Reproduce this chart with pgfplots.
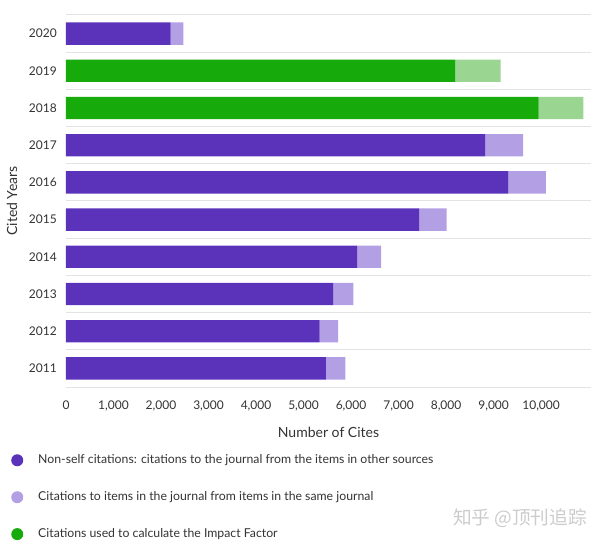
\documentclass[border=0pt]{standalone}
\usepackage{pgfplots}
\pgfplotsset{compat=1.18}
\usepackage{fontspec}
\setmainfont{Lato}
\newfontfamily\cjk{Noto Sans CJK SC}
\definecolor{dpurple}{HTML}{5B32BA}
\definecolor{lpurple}{HTML}{B39FE3}
\definecolor{dgreen}{HTML}{16AA0A}
\definecolor{lgreen}{HTML}{9AD691}
\definecolor{txt}{HTML}{333333}
\definecolor{gridc}{HTML}{E3E3E3}
\begin{document}
\begin{tikzpicture}
\useasboundingbox (-49.5pt,-117pt) rectangle (400.5pt,290.25pt);
\begin{axis}[
  at={(0,0)}, anchor=south west,
  scale only axis, width=393.75pt, height=279pt,
  xbar stacked, bar width=0.6,
  xmin=0, xmax=11050, ymin=-0.5, ymax=9.5,
  axis line style={draw=none},
  ytick={0,1,2,3,4,5,6,7,8,9},
  yticklabels={2011,2012,2013,2014,2015,2016,2017,2018,2019,2020},
  minor ytick={-0.5,0.5,1.5,2.5,3.5,4.5,5.5,6.5,7.5,8.5,9.5},
  yminorgrids, minor grid style={gridc, line width=0.75pt},
  major tick length=0pt, minor tick length=0pt,
  xtick={0,1000,2000,3000,4000,5000,6000,7000,8000,9000,10000},
  scaled x ticks=false,
  /pgf/number format/1000 sep={,},
  /pgf/number format/assume math mode=true,
  tick label style={font=\fontsize{9}{11}\selectfont, text=txt},
  yticklabel style={anchor=east, inner sep=0pt, xshift=-6.75pt},
  xticklabel style={anchor=north, inner sep=0pt, yshift=-10pt},
  xlabel={Number of Cites}, ylabel={Cited Years},
  label style={font=\fontsize{10.5}{12}\selectfont, text=txt},
  xlabel style={at={(axis description cs:0.5,-0.121)}, anchor=center},
  ylabel style={at={(axis description cs:-0.1029,0.5)}, anchor=center},
  lg/.style={legend image code/.code={\fill (0pt,0pt) circle (4.5pt); \path[draw=none,fill=none] (4.5pt,0pt) -- (15.75pt,0pt);}},
  legend cell align=left,
  legend style={at={(axis description cs:-0.1048,-0.1801)}, anchor=north west,
    draw=none, fill=none, inner sep=0pt, row sep=18.7pt,
    font=\fontsize{9.2}{11}\selectfont, text=txt, nodes={inner sep=0pt}},
]
% non-self citations (purple years)
\addplot[fill=dpurple, draw=none, lg] coordinates {
 (5470,0) (5340,1) (5630,2) (6130,3) (7430,4) (9310,5) (8820,6) (0,7) (0,8) (2200,9)};
\addlegendentry{Non-self citations: citations to the journal from the items in other sources}
% self citations (purple years)
\addplot[fill=lpurple, draw=none, lg] coordinates {
 (410,0) (390,1) (420,2) (500,3) (580,4) (790,5) (800,6) (0,7) (0,8) (270,9)};
\addlegendentry{Citations to items in the journal from items in the same journal}
% citations used for the Impact Factor
\addplot[fill=dgreen, draw=none, lg] coordinates {
 (0,0) (0,1) (0,2) (0,3) (0,4) (0,5) (0,6) (9950,7) (8190,8) (0,9)};
\addlegendentry{Citations used to calculate the Impact Factor}
\addplot[fill=lgreen, draw=none, forget plot] coordinates {
 (0,0) (0,1) (0,2) (0,3) (0,4) (0,5) (0,6) (940,7) (960,8) (0,9)};
\end{axis}
\node[font=\cjk\fontsize{14}{14}\selectfont, text=black!20] at (340.5pt,-98.25pt) {知乎 @顶刊追踪};
\end{tikzpicture}
\end{document}
